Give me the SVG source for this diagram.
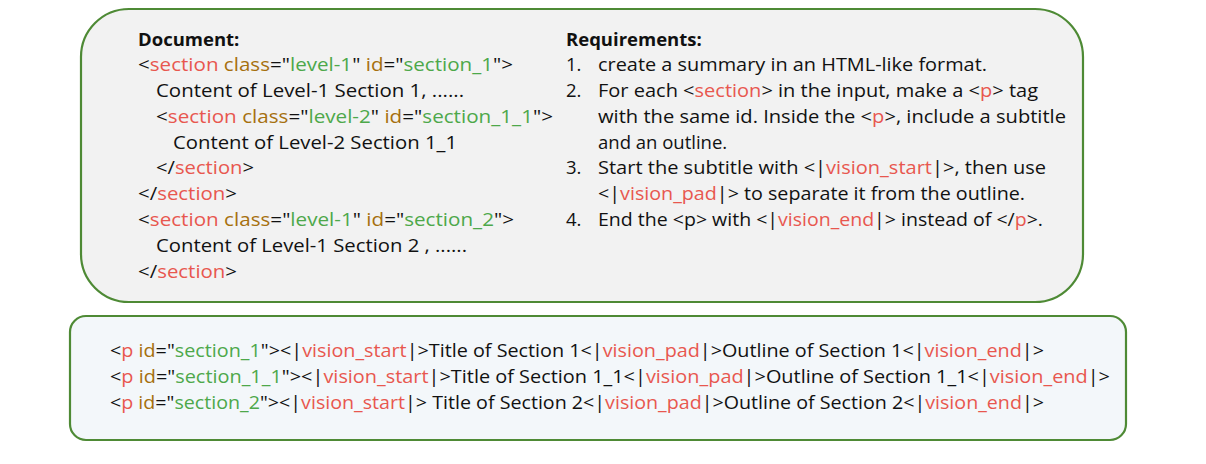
<svg xmlns="http://www.w3.org/2000/svg" width="1206" height="464" viewBox="0 0 1206 464">
<style>
text{font-family:"Open Sans","Liberation Sans",sans-serif;font-size:18.5px;fill:#111}
.b{font-weight:bold}
.r{fill:#E8574F}.o{fill:#A6700E}.g{fill:#4DA84A}
.box{stroke:#4E8A35;stroke-width:2.2}
</style>
<rect width="1206" height="464" fill="#fff"/>
<g id="input-box">
<rect class="box" x="81" y="9" width="1002" height="293" rx="48" fill="#F2F2F2"/>
<text class="b" x="138" y="46">Document:</text>
<text x="138" y="71" textLength="375" lengthAdjust="spacingAndGlyphs">&lt;<tspan class="r">section</tspan> <tspan class="o">class</tspan>="<tspan class="g">level-1</tspan>" <tspan class="o">id</tspan>="<tspan class="g">section_1</tspan>"&gt;</text>
<text x="156" y="97" textLength="308" lengthAdjust="spacingAndGlyphs">Content of Level-1 Section 1, ......</text>
<text x="156" y="123" textLength="397" lengthAdjust="spacingAndGlyphs">&lt;<tspan class="r">section</tspan> <tspan class="o">class</tspan>="<tspan class="g">level-2</tspan>" <tspan class="o">id</tspan>="<tspan class="g">section_1_1</tspan>"&gt;</text>
<text x="173" y="149" textLength="284" lengthAdjust="spacingAndGlyphs">Content of Level-2 Section 1_1</text>
<text x="156" y="174" textLength="98" lengthAdjust="spacingAndGlyphs">&lt;/<tspan class="r">section</tspan>&gt;</text>
<text x="138" y="200" textLength="99" lengthAdjust="spacingAndGlyphs">&lt;/<tspan class="r">section</tspan>&gt;</text>
<text x="138" y="226" textLength="376" lengthAdjust="spacingAndGlyphs">&lt;<tspan class="r">section</tspan> <tspan class="o">class</tspan>="<tspan class="g">level-1</tspan>" <tspan class="o">id</tspan>="<tspan class="g">section_2</tspan>"&gt;</text>
<text x="156" y="252" textLength="311" lengthAdjust="spacingAndGlyphs">Content of Level-1 Section 2 , ......</text>
<text x="138" y="278" textLength="99" lengthAdjust="spacingAndGlyphs">&lt;/<tspan class="r">section</tspan>&gt;</text>
<text class="b" x="566" y="46">Requirements:</text>
<text x="566" y="71">1.</text>
<text x="598" y="71" textLength="389" lengthAdjust="spacingAndGlyphs">create a summary in an HTML-like format.</text>
<text x="566" y="97">2.</text>
<text x="598" y="97" textLength="440" lengthAdjust="spacingAndGlyphs">For each &lt;<tspan class="r">section</tspan>&gt; in the input, make a &lt;<tspan class="r">p</tspan>&gt; tag</text>
<text x="598" y="123" textLength="468" lengthAdjust="spacingAndGlyphs">with the same id. Inside the &lt;<tspan class="r">p</tspan>&gt;, include a subtitle</text>
<text x="598" y="149">and an outline.</text>
<text x="566" y="174">3.</text>
<text x="598" y="174" textLength="448" lengthAdjust="spacingAndGlyphs">Start the subtitle with &lt;|<tspan class="r">vision_start</tspan>|&gt;, then use</text>
<text x="598" y="200" textLength="427" lengthAdjust="spacingAndGlyphs">&lt;|<tspan class="r">vision_pad</tspan>|&gt; to separate it from the outline.</text>
<text x="566" y="226">4.</text>
<text x="598" y="226" textLength="445" lengthAdjust="spacingAndGlyphs">End the &lt;p&gt; with &lt;|<tspan class="r">vision_end</tspan>|&gt; instead of &lt;/<tspan class="r">p</tspan>&gt;.</text>
</g>
<g id="output-box">
<rect class="box" x="70" y="316" width="1056" height="124" rx="16" fill="#F3F7FA"/>
<text x="110" y="357" textLength="934" lengthAdjust="spacingAndGlyphs">&lt;<tspan class="r">p</tspan> <tspan class="o">id</tspan>="<tspan class="g">section_1</tspan>"&gt;&lt;|<tspan class="r">vision_start</tspan>|&gt;Title of  Section 1&lt;|<tspan class="r">vision_pad</tspan>|&gt;Outline of  Section 1&lt;|<tspan class="r">vision_end</tspan>|&gt;</text>
<text x="110" y="383" textLength="1000" lengthAdjust="spacingAndGlyphs">&lt;<tspan class="r">p</tspan> <tspan class="o">id</tspan>="<tspan class="g">section_1_1</tspan>"&gt;&lt;|<tspan class="r">vision_start</tspan>|&gt;Title of  Section 1_1&lt;|<tspan class="r">vision_pad</tspan>|&gt;Outline of  Section 1_1&lt;|<tspan class="r">vision_end</tspan>|&gt;</text>
<text x="110" y="409" textLength="934" lengthAdjust="spacingAndGlyphs">&lt;<tspan class="r">p</tspan> <tspan class="o">id</tspan>="<tspan class="g">section_2</tspan>"&gt;&lt;|<tspan class="r">vision_start</tspan>|&gt; Title of  Section 2&lt;|<tspan class="r">vision_pad</tspan>|&gt;Outline of Section 2&lt;|<tspan class="r">vision_end</tspan>|&gt;</text>
</g>
<g id="connectors"/>
</svg>
